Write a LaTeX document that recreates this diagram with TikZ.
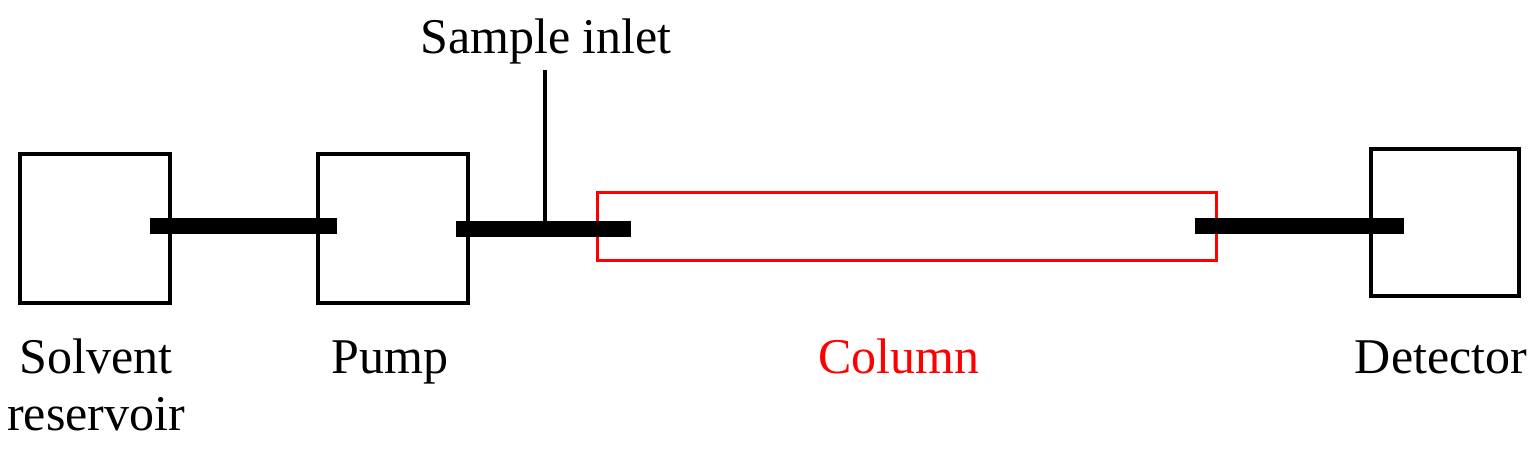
\documentclass[tikz,border=0pt]{standalone}
\usepackage{fontspec}
\setmainfont{Liberation Serif}
\begin{document}
\begin{tikzpicture}[x=0.5pt,y=-0.5pt,
  unit/.style={draw=black,line width=2pt,minimum width=75pt,minimum height=74.5pt,inner sep=0pt,outer sep=0pt},
  bar/.style={line width=8pt,black},
  lbl/.style={font=\fontsize{25}{28.5}\selectfont,anchor=base,align=center,inner sep=0pt}]
\useasboundingbox (0,0) rectangle (1537,452);
\node[unit] (sol) at (95,228.5) {};
\node[unit] (pump) at (392.5,228) {};
\node[unit,minimum width=74pt,minimum height=73.5pt] (det) at (1445,222.5) {};
\node[draw=red,line width=1.5pt,minimum width=309.5pt,minimum height=34pt,inner sep=0pt,outer sep=0pt] (col) at (906.75,226.5) {};
\coordinate (b1s) at (150,226);
\coordinate (b1e) at (337,226);
\coordinate (b2s) at (456,228.5);
\coordinate (b2e) at (631,228.5);
\coordinate (b3s) at (1195,226);
\coordinate (b3e) at (1404,226);
\draw[bar] (b1s) -- (b1e);
\draw[bar] (b2s) -- (b2e);
\draw[bar] (b3s) -- (b3e);
\coordinate (inl) at (545,221);
\node[lbl] (inlet) at (546,53) {Sample inlet};
\draw[line width=2pt] (inl) -- (545,70);
\node[lbl] (soll) at (96,430) {Solvent\\reservoir};
\node[lbl] (pumpl) at (390,373) {Pump};
\node[lbl,text=red] (coll) at (899,373) {Column};
\node[lbl] (detl) at (1441,373) {Detector};
\end{tikzpicture}
\end{document}
